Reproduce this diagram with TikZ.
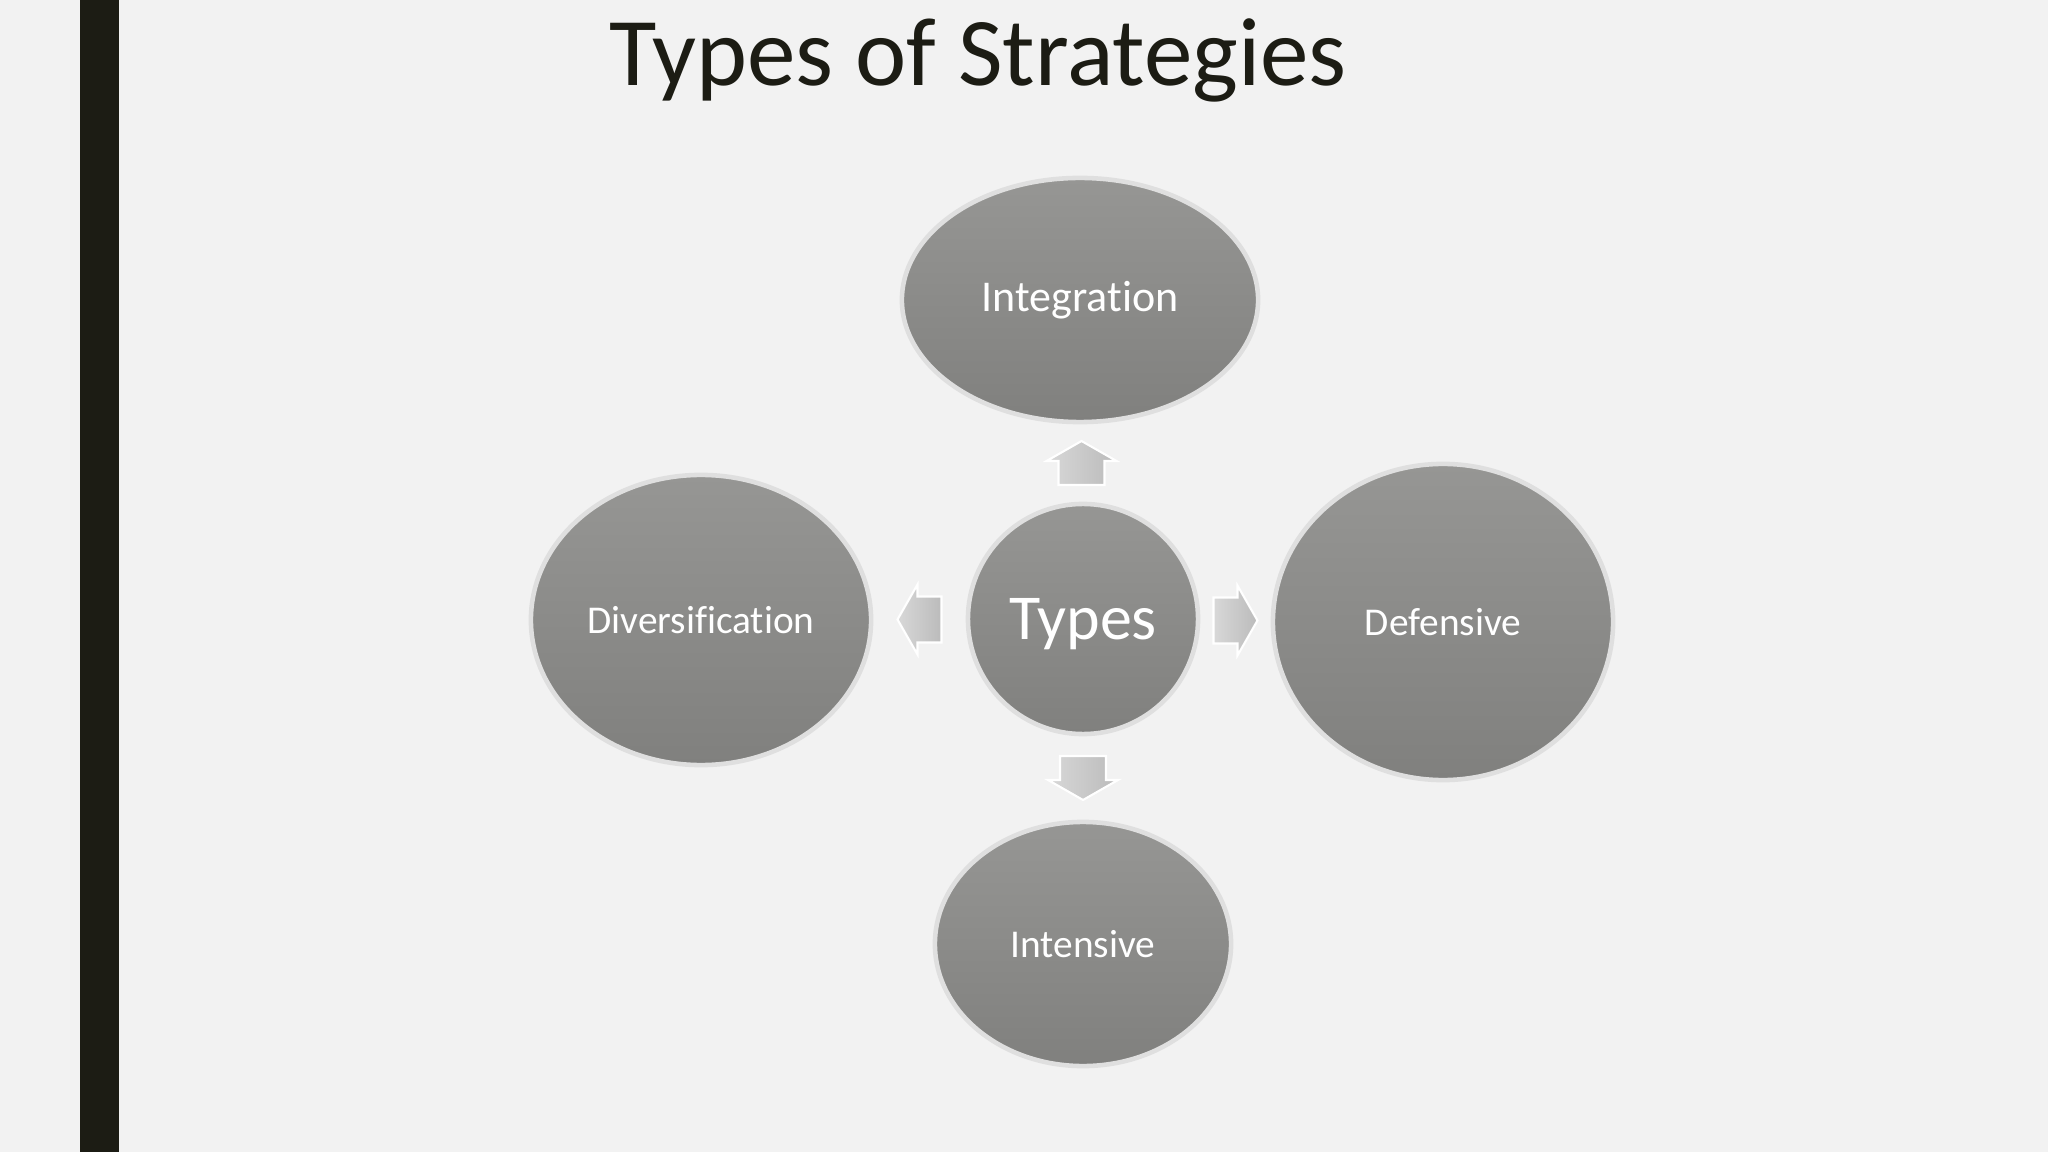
\documentclass[tikz,border=0pt]{standalone}
\usepackage{fontspec}
\setmainfont{Carlito}[Ligatures=NoCommon]
\usetikzlibrary{shapes.geometric,calc}

\definecolor{slidebg}{HTML}{F2F2F2}
\definecolor{sidebar}{HTML}{1C1C14}
\definecolor{balltop}{HTML}{969694}
\definecolor{ballbot}{HTML}{80807E}
\definecolor{arrtop}{HTML}{D8D8D8}
\definecolor{arrbot}{HTML}{BBBBBB}

\tikzset{
  ball/.style={ellipse, inner sep=0pt, top color=balltop, bottom color=ballbot,
    draw=white!75!gray, line width=1.3pt, text=white,
    font=\fontsize{11.2}{14}\selectfont},
  blockarr/.pic={
    \shade [left color=arrtop, right color=arrbot, draw=white, line width=0.6pt]
      (-22,-23) -- (2,-23) -- (2,-35) -- (22,0) -- (2,35) -- (2,23) -- (-22,23) -- cycle;
  }
}

\begin{document}
\begin{tikzpicture}[x=0.01cm,y=-0.01cm]

\fill [slidebg] (0,0) rectangle (2048,1152);
\fill [sidebar] (80,0) rectangle (119,1152);

\node [anchor=base, text=sidebar, font=\fontsize{27.6}{32}\selectfont] (title) at (978,86) {Types of Strategies};

\node [ball, minimum width=3.56cm, minimum height=2.44cm, font=\fontsize{12.5}{15}\selectfont] (integ) at (1080,300) {Integration};
\node [ball, minimum width=2.30cm, minimum height=2.30cm, font=\fontsize{18.2}{21}\selectfont, text height=0.52cm] (types) at (1083,619) {Types};
\node [ball, minimum width=3.40cm, minimum height=2.90cm] (divers) at (701,620) {Diversification};
\node [ball, minimum width=3.40cm, minimum height=3.16cm] (defen) at (1443,622) {Defensive};
\node [ball, minimum width=2.96cm, minimum height=2.44cm] (intens) at (1083,944) {Intensive};

\pic [rotate=90] (up) at ($(types.north)!0.5!(integ.south)$) {blockarr};
\pic [rotate=180] (left) at ($(types.west)!0.5!(divers.east)$) {blockarr};
\pic (right) at ($(types.east)!0.5!(defen.west)$) {blockarr};
\pic [rotate=270] (down) at ($(types.south)!0.5!(intens.north)$) {blockarr};

\end{tikzpicture}
\end{document}
